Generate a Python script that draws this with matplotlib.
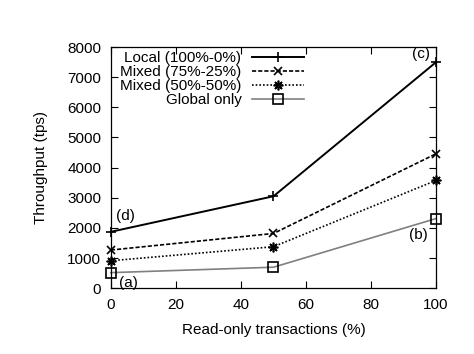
import matplotlib
matplotlib.use("Agg")
import matplotlib.pyplot as plt

plt.rcParams['font.family'] = ['Liberation Sans', 'DejaVu Sans']
plt.rcParams['font.size'] = 11

read_only = [0, 50, 100]
local = [1870, 3050, 7500]
mixed75 = [1265, 1815, 4460]
mixed50 = [910, 1375, 3575]
global_only = [515, 695, 2310]

labels = ["Local (100%-0%)", "Mixed (75%-25%)", "Mixed (50%-50%)", "Global only"]
xticks = [0, 20, 40, 60, 80, 100]
yticks = [0, 1000, 2000, 3000, 4000, 5000, 6000, 7000, 8000]

fig = plt.figure(figsize=(4.74, 3.54), dpi=100)
ax = fig.add_axes([0.234, 0.186, 0.686, 0.681])

ax.plot(read_only, local, color='black', lw=1.4, ls='-', marker='+', ms=7, mew=1.2,
        clip_on=False, label=labels[0])
ax.plot(read_only, mixed75, color='black', lw=1.2, ls=(0, (2.5, 1.2)), marker='x', ms=6, mew=1.2,
        clip_on=False, label=labels[1])
ax.plot(read_only, mixed50, color='black', lw=1.2, ls=(0, (1, 1.2)), marker=(8, 2, 0), ms=7, mew=1.2,
        clip_on=False, label=labels[2])
ax.plot(read_only, global_only, color='#808080', lw=1.2, ls='-', marker='s', ms=6.5, mew=1.2,
        mfc='none', mec='black', clip_on=False, label=labels[3])

ax.set_xlim(0, 100)
ax.set_ylim(0, 8000)
ax.set_xticks(xticks)
ax.set_yticks(yticks)
ax.tick_params(direction='in', top=True, right=True, length=5, width=0.8, labelsize=11, pad=7)
for s in ax.spines.values():
    s.set_linewidth(0.9)

ax.set_xlabel("Read-only transactions (%)", fontsize=11, labelpad=8)
ax.set_ylabel("Throughput (tps)", fontsize=11, labelpad=14)

ax.text(2.5, 180, "(a)", fontsize=11, ha='left', va='center')
ax.text(97.5, 1780, "(b)", fontsize=11, ha='right', va='center')
ax.text(98, 7780, "(c)", fontsize=11, ha='right', va='center')
ax.text(1.5, 2380, "(d)", fontsize=11, ha='left', va='center')

leg = ax.legend(loc='upper left', bbox_to_anchor=(0.0, 1.02), frameon=False, markerfirst=False,
                handlelength=3.4, handletextpad=0.7, labelspacing=0.0, fontsize=11,
                borderaxespad=0.3, borderpad=0.3)

fig.savefig("out.png", dpi=100)
